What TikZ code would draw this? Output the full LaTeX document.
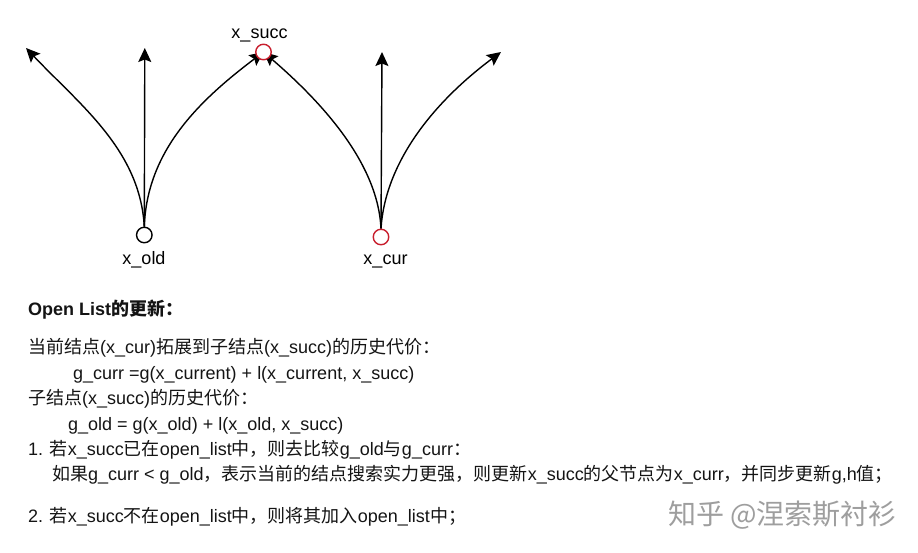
\documentclass[tikz,border=0pt]{standalone}
\usepackage{fontspec}
\setmainfont{Liberation Sans}
\newfontfamily\cjk{Noto Sans CJK SC}
\newcommand{\zh}[1]{{\cjk #1}}
\usetikzlibrary{arrows.meta,backgrounds}
\definecolor{redc}{RGB}{200,30,45}
\tikzset{
  x=1pt,y=-1pt,
  dot/.style={circle,draw=#1,fill=white,line width=1.4pt,minimum size=15.5pt,inner sep=0pt},
  lab/.style={font=\fontsize{18}{20}\selectfont,inner sep=0pt,anchor=base},
  txt/.style={font=\fontsize{18}{20}\selectfont,inner sep=0pt,anchor=base west,text=black!92},
  arc/.style={line width=1.4pt,-{Stealth[length=14pt,width=13pt,inset=2.5pt]}},
  wm/.style={font=\fontsize{28}{30}\selectfont,inner sep=0pt,anchor=base west,text=black!38}
}
\begin{document}
\begin{tikzpicture}
\useasboundingbox (0,0) rectangle (918,552);
\node[dot=black] (old) at (144.3,235) {};
\node[dot=redc] (succ) at (263.5,52) {};
\node[dot=redc] (cur) at (381,237) {};
\coordinate (e1) at (26,48);
\coordinate (e2) at (144.8,48);
\coordinate (e3) at (382,52);
\coordinate (e4) at (501,52);
\begin{scope}[on background layer]
\draw[arc] (old.north) .. controls (140,150) and (80,105) .. (e1);
\draw[arc] (old.north) -- (e2);
\draw[arc] (old.north) .. controls (147,150) and (200,100) .. (succ.center);
\draw[arc] (cur.north) .. controls (378,165) and (325,105) .. (succ.center);
\draw[arc] (cur.north) -- (e3);
\draw[arc] (cur.north) .. controls (385,165) and (430,105) .. (e4);
\end{scope}
\node[lab] (l1) at (259.5,38) {x\_succ};
\node[lab] (l2) at (144,264) {x\_old};
\node[lab] (l3) at (385.5,264) {x\_cur};
\node[txt,font=\fontsize{18}{20}\selectfont\bfseries] (t0) at (28,315) {Open List\zh{的更新：}};
\node[txt] (t1) at (28,353) {\zh{当前结点}(x\_cur)\zh{拓展到子结点}(x\_succ)\zh{的历史代价：}};
\node[txt] (t2) at (73,379) {g\_curr =g(x\_current) + l(x\_current, x\_succ)};
\node[txt] (t3) at (28,404) {\zh{子结点}(x\_succ)\zh{的历史代价：}};
\node[txt] (t4) at (68,430) {g\_old = g(x\_old) + l(x\_old, x\_succ)};
\node[txt] (t5) at (28,455) {1. \zh{若}x\_succ\zh{已在}open\_list\zh{中，则去比较}g\_old\zh{与}g\_curr\zh{：}};
\node[txt] (t6) at (52,480) {\zh{如果}g\_curr < g\_old\zh{，表示当前的结点搜索实力更强，则更新}x\_succ\zh{的父节点为}x\_curr\zh{，并同步更新}g,h\zh{值；}};
\node[txt] (t7) at (28,522) {2. \zh{若}x\_succ\zh{不在}open\_list\zh{中，则将其加入}open\_list\zh{中；}};
\node[wm] (w) at (668,524) {\zh{知乎 @涅索斯衬衫}};
\end{tikzpicture}
\end{document}
